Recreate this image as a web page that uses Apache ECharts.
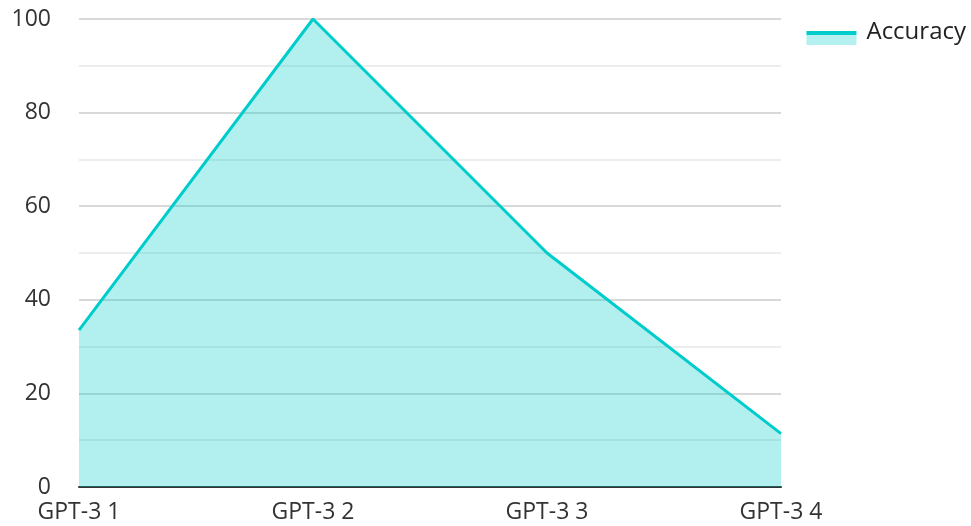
<!DOCTYPE html>
<html><head><meta charset="utf-8">
<script src="https://cdn.jsdelivr.net/npm/echarts@6/dist/echarts.min.js"></script>
<style>html,body{margin:0;padding:0;background:#fff}#c{width:971px;height:526px}</style>
</head><body><div id="c"></div>
<script>
const categories = ['GPT-3 1', 'GPT-3 2', 'GPT-3 3', 'GPT-3 4'];
const accuracy = [33.5, 100, 50, 11.4];
const seriesName = 'Accuracy';

const chart = echarts.init(document.getElementById('c'));
const font = '"Open Sans", "Noto Sans", sans-serif';
chart.setOption({
  animation: false,
  grid: { left: 79, right: 190, top: 19, bottom: 39, containLabel: false },
  legend: {
    right: 5, top: 20, padding: 0,
    icon: 'rect', itemWidth: 50, itemHeight: 14, itemGap: 10,
    formatter: '{a|{name}}',
    textStyle: {
      fontFamily: font, fontSize: 24, color: '#222',
      rich: { a: { fontFamily: font, fontSize: 24, color: '#222', padding: [0, 0, 12, 5] } }
    },
    itemStyle: {
      color: new echarts.graphic.LinearGradient(0, 0, 0, 1, [
        { offset: 0, color: '#00cccc' }, { offset: 0.28, color: '#00cccc' },
        { offset: 0.28, color: '#b3f0ef' }, { offset: 1, color: '#b3f0ef' }
      ]),
      borderWidth: 0
    },
    data: [seriesName]
  },
  xAxis: {
    type: 'category', data: categories, boundaryGap: false,
    axisLine: { lineStyle: { color: '#333', width: 2 } },
    axisTick: { show: false },
    axisLabel: { fontFamily: font, fontSize: 23, color: '#333', margin: 14 },
    splitLine: { show: false }
  },
  yAxis: {
    type: 'value', min: 0, max: 100, interval: 20,
    axisLine: { show: false }, axisTick: { show: false },
    axisLabel: { fontFamily: font, fontSize: 23, color: '#333', margin: 28 },
    splitLine: { lineStyle: { color: '#cccccc', width: 1.5 } },
    minorTick: { show: false, splitNumber: 2 },
    minorSplitLine: { show: true, lineStyle: { color: '#e8e8e8', width: 1.5 } }
  },
  series: [{
    name: seriesName, type: 'line', data: accuracy,
    symbol: 'none',
    lineStyle: { color: '#00cccc', width: 3 },
    itemStyle: { color: '#00cccc' },
    areaStyle: { color: '#00cccc', opacity: 0.3 }
  }]
});
</script></body></html>
